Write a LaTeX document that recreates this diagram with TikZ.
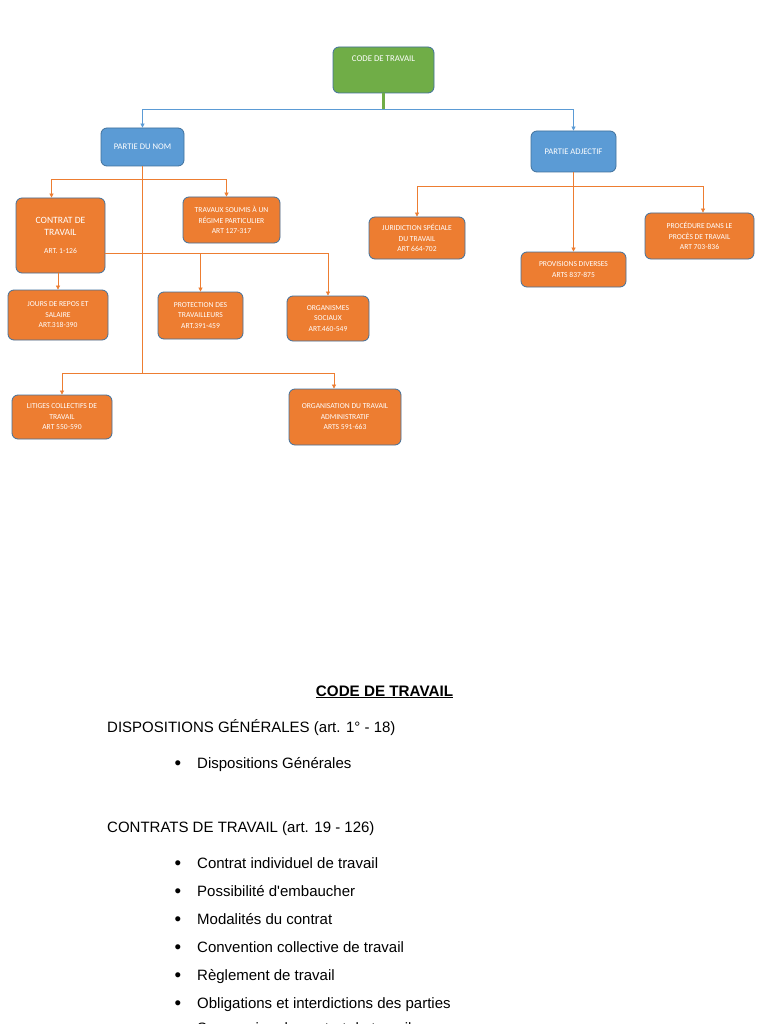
\documentclass[tikz,border=0pt]{standalone}
\usepackage{fontspec}
\setmainfont{Liberation Sans}
\newfontfamily\calfont{Carlito}
\usetikzlibrary{arrows.meta,calc}
\definecolor{orng}{HTML}{ED7D31}
\definecolor{blu}{HTML}{5B9BD5}
\definecolor{grn}{HTML}{70AD47}
\definecolor{bordc}{HTML}{41719C}
\newcommand{\itm}[1]{\makebox[22.6pt][l]{\raisebox{-1.3pt}{\scalebox{1.25}{•}}}#1}
\begin{document}
\begin{tikzpicture}[x=1pt,y=-1pt,
  box/.style={draw=bordc, line width=0.8pt, rounded corners=6pt, text=white, align=center, inner sep=0pt,
    font=\calfont\fontsize{7.6}{10.5}\selectfont},
  ob/.style={box, fill=orng},
  bb/.style={box, fill=blu},
  gb/.style={box, fill=grn},
  oline/.style={draw=orng, line width=0.7pt},
  oarr/.style={oline, -{Triangle[length=4pt,width=4pt]}},
  barr/.style={draw=blu, line width=0.7pt, -{Triangle[length=4pt,width=4pt]}},
  gline/.style={draw=grn, line width=3pt},
  txt/.style={anchor=base west, inner sep=0pt, font=\fontsize{15}{18}\selectfont}]
\useasboundingbox (0,0) rectangle (768,1024);
\clip (0,0) rectangle (768,1024);
\fill[white] (0,0) rectangle (768,1024);

% nodes
\node[gb, minimum width=101pt, text height=15pt, text depth=31pt, font=\calfont\fontsize{8.8}{10}\selectfont] (cdt) at (383.5,70) {CODE DE TRAVAIL};
\node[bb, minimum width=83pt, minimum height=38pt, font=\calfont\fontsize{8.6}{10}\selectfont] (pdn) at (142.5,147) {PARTIE DU NOM};
\node[bb, minimum width=85pt, minimum height=41pt, font=\calfont\fontsize{8.6}{10}\selectfont] (pa) at (573.5,151.5) {PARTIE ADJECTIF};

\node[ob, minimum width=89pt, minimum height=75pt, font=\calfont\fontsize{9.6}{12}\selectfont] (ct) at (60.5,235.5) {CONTRAT DE\\TRAVAIL\\[6pt]\fontsize{7.6}{9}\selectfont ART. 1-126};
\node[ob, minimum width=97pt, minimum height=46pt] (ts) at (231.5,220) {TRAVAUX SOUMIS À UN\\RÉGIME PARTICULIER\\ART 127-317};
\node[ob, minimum width=100pt, minimum height=50pt] (jr) at (58,315) {JOURS DE REPOS ET\\SALAIRE\\ART.318-390};
\node[ob, minimum width=85pt, minimum height=47pt] (pr) at (200.5,315.5) {PROTECTION DES\\TRAVAILLEURS\\ART.391-459};
\node[ob, minimum width=82pt, minimum height=45pt] (os) at (328,318.5) {ORGANISMES\\SOCIAUX\\ART.460-549};
\node[ob, minimum width=100pt, minimum height=44pt] (lt) at (62,417) {LITIGES COLLECTIFS DE\\TRAVAIL\\ART 550-590};
\node[ob, minimum width=112pt, minimum height=56pt] (og) at (345,417) {ORGANISATION DU TRAVAIL\\ADMINISTRATIF\\ARTS 591-663};
\node[ob, minimum width=96pt, minimum height=42pt] (jd) at (417,238) {JURIDICTION SPÉCIALE\\DU TRAVAIL\\ART 664-702};
\node[ob, minimum width=105pt, minimum height=35pt] (pv) at (573.5,269.5) {PROVISIONS DIVERSES\\ARTS 837-875};
\node[ob, minimum width=109pt, minimum height=46pt] (pc) at (699.5,236) {PROCÉDURE DANS LE\\PROCÈS DE TRAVAIL\\ART 703-836};

% helper coordinates
\coordinate (j0) at ($(cdt.south)+(0,16)$);
\coordinate (h1) at (0,179);
\coordinate (h2) at (0,373);
\coordinate (h3) at (0,186);
\coordinate (c1) at ([yshift=-17.5pt]ct.east);

% connectors
\draw[gline] (cdt.south) -- (j0);
\draw[barr] (j0) -| (pdn.north);
\draw[barr] (j0) -| (pa.north);

\draw[oline] (pdn.south) -- (pdn.south |- h2);
\draw[oarr] (pdn.south |- h1) -| ([xshift=-9pt]ct.north);
\draw[oarr] (pdn.south |- h1) -| ([xshift=-5pt]ts.north);
\draw[oarr] (jr.north |- ct.south) -- (jr.north);
\draw[oarr] (c1) -| (os.north);
\draw[oarr] (c1 -| pr.north) -- (pr.north);
\draw[oarr] (pdn.south |- h2) -| (lt.north);
\draw[oarr] (pdn.south |- h2) -| ([xshift=-11pt]og.north);

\draw[oarr] (pa.south) -- (pv.north);
\draw[oarr] (pa.south |- h3) -| (jd.north);
\draw[oarr] (pa.south |- h3) -| ([xshift=3.5pt]pc.north);

% text part
\node[anchor=base, inner sep=0pt, font=\bfseries\fontsize{15.2}{18}\selectfont] (t0) at (384.5,696) {\underline{CODE DE TRAVAIL}};
\node[txt] (s1) at (107,732.5) {DISPOSITIONS GÉNÉRALES (art. 1° - 18)};
\node[txt] (i1) at (174.4,768.5) {\itm{Dispositions Générales}};
\node[txt] (s2) at (107,832) {CONTRATS DE TRAVAIL (art. 19 - 126)};
\node[txt] (i2) at (174.4,868) {\itm{Contrat individuel de travail}};
\node[txt] (i3) at (174.4,896) {\itm{Possibilité d\textquotesingle embaucher}};
\node[txt] (i4) at (174.4,924) {\itm{Modalités du contrat}};
\node[txt] (i5) at (174.4,952) {\itm{Convention collective de travail}};
\node[txt] (i6) at (174.4,980) {\itm{Règlement de travail}};
\node[txt] (i7) at (174.4,1008) {\itm{Obligations et interdictions des parties}};
\node[txt] (i8) at (174.4,1033) {\itm{Suspension du contrat de travail}};
\end{tikzpicture}
\end{document}
